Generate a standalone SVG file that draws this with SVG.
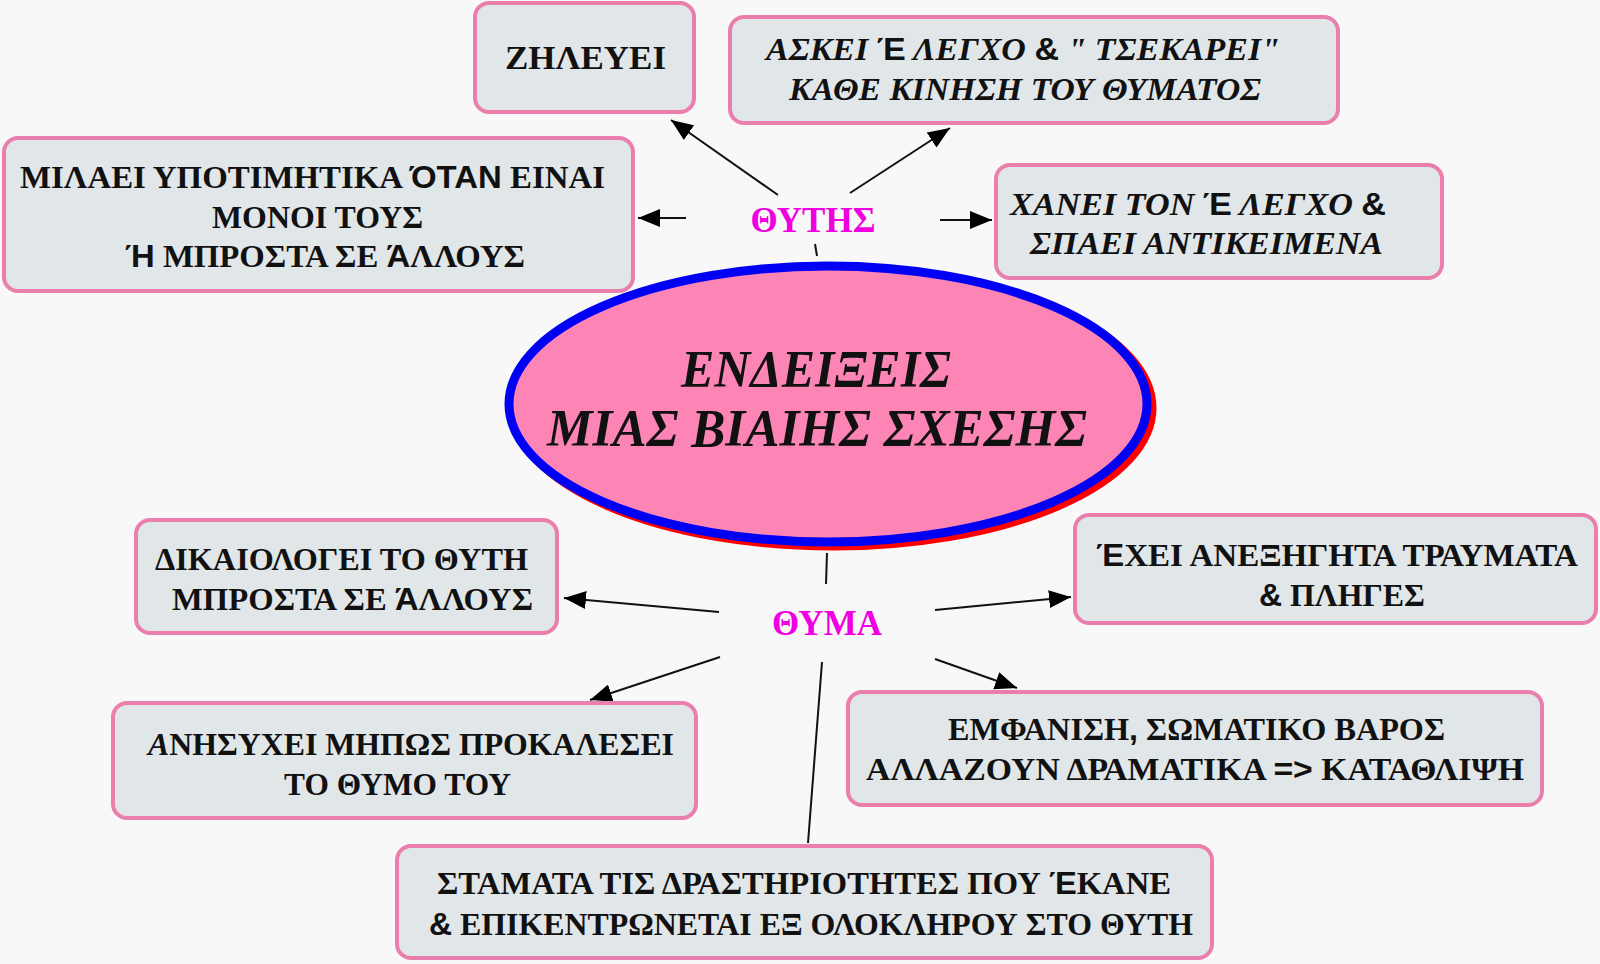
<svg xmlns="http://www.w3.org/2000/svg" width="1600" height="964" viewBox="0 0 1600 964">
<defs>
<style>
.box{fill:#E1E6E9;stroke:#EA7FAE;stroke-width:4}
.t{font-family:"Liberation Serif","Times New Roman",serif;font-weight:bold;font-size:31px;fill:#111}
.big{font-size:52px}
.z{font-size:34px}
.it{font-style:italic}
.s{font-family:"Liberation Sans",Arial,sans-serif;font-weight:bold;font-style:normal}
.lbl{font-family:"Liberation Serif","Times New Roman",serif;font-weight:bold;font-size:35px;fill:#F000E0}
.c{stroke:#111;stroke-width:2;fill:none}
</style>
<marker id="ah" markerUnits="userSpaceOnUse" markerWidth="24" markerHeight="18" refX="22" refY="9" orient="auto">
<path d="M0,0 L22,9 L0,18 Z" fill="#000"/>
</marker>
</defs>
<rect width="1600" height="964" fill="#F8F8F8"/>

<g id="connectors">
<line class="c" x1="778" y1="195" x2="671" y2="120" marker-end="url(#ah)"/>
<line class="c" x1="850" y1="193" x2="950" y2="128" marker-end="url(#ah)"/>
<line class="c" x1="686" y1="218" x2="638" y2="218" marker-end="url(#ah)"/>
<line class="c" x1="940" y1="220" x2="992" y2="220" marker-end="url(#ah)"/>
<line class="c" x1="815" y1="244" x2="817" y2="256"/>
<line class="c" x1="827" y1="553" x2="826" y2="584"/>
<line class="c" x1="719" y1="612" x2="564" y2="598" marker-end="url(#ah)"/>
<line class="c" x1="935" y1="610" x2="1071" y2="597" marker-end="url(#ah)"/>
<line class="c" x1="720" y1="657" x2="590" y2="700" marker-end="url(#ah)"/>
<line class="c" x1="935" y1="659" x2="1017" y2="688" marker-end="url(#ah)"/>
<line class="c" x1="822" y1="662" x2="808" y2="843"/>
</g>

<g id="center">
<ellipse cx="833" cy="408" rx="319" ry="138" fill="#F00" stroke="#F00" stroke-width="9"/>
<ellipse cx="828" cy="404" rx="319" ry="138" fill="#FC85B6" stroke="#0000F5" stroke-width="9"/>
<text class="t it big" x="681" y="387" textLength="270" lengthAdjust="spacingAndGlyphs">ΕΝΔΕΙΞΕΙΣ</text>
<text class="t it big" x="547" y="446" textLength="540" lengthAdjust="spacingAndGlyphs">ΜΙΑΣ ΒΙΑΙΗΣ ΣΧΕΣΗΣ</text>
</g>

<g id="label-thytis"><text class="lbl" x="813" y="232" text-anchor="middle">ΘΥΤΗΣ</text></g>
<g id="label-thyma"><text class="lbl" x="827" y="635" text-anchor="middle">ΘΥΜΑ</text></g>

<g id="n-zileyei">
<rect class="box" x="475" y="3" width="219" height="109" rx="14"/>
<text class="t z" x="505" y="69" textLength="161" lengthAdjust="spacingAndGlyphs">ΖΗΛΕΥΕΙ</text>
</g>

<g id="n-askei">
<rect class="box" x="730" y="17" width="608" height="106" rx="14"/>
<text class="t it" x="766" y="60" textLength="514" lengthAdjust="spacingAndGlyphs">ΑΣΚΕΙ <tspan class="s">Έ</tspan> ΛΕΓΧΟ <tspan class="s">&amp;</tspan> " ΤΣΕΚΑΡΕΙ"</text>
<text class="t it" x="789" y="100" textLength="472" lengthAdjust="spacingAndGlyphs">ΚΑΘΕ ΚΙΝΗΣΗ ΤΟΥ ΘΥΜΑΤΟΣ</text>
</g>

<g id="n-milaei">
<rect class="box" x="4" y="138" width="629" height="153" rx="14"/>
<text class="t" x="20" y="188" textLength="585" lengthAdjust="spacingAndGlyphs">ΜΙΛΑΕΙ ΥΠΟΤΙΜΗΤΙΚΑ <tspan class="s">ΌΤΑΝ</tspan> ΕΙΝΑΙ</text>
<text class="t" x="212" y="228" textLength="211" lengthAdjust="spacingAndGlyphs">ΜΟΝΟΙ ΤΟΥΣ</text>
<text class="t" x="125" y="267" textLength="400" lengthAdjust="spacingAndGlyphs"><tspan class="s">Ή</tspan> ΜΠΡΟΣΤΑ ΣΕ <tspan class="s">Ά</tspan>ΛΛΟΥΣ</text>
</g>

<g id="n-xanei">
<rect class="box" x="996" y="165" width="446" height="113" rx="14"/>
<text class="t it" x="1010" y="215" textLength="376" lengthAdjust="spacingAndGlyphs">ΧΑΝΕΙ ΤΟΝ <tspan class="s">Έ</tspan> ΛΕΓΧΟ <tspan class="s">&amp;</tspan></text>
<text class="t it" x="1030" y="254" textLength="353" lengthAdjust="spacingAndGlyphs">ΣΠΑΕΙ ΑΝΤΙΚΕΙΜΕΝΑ</text>
</g>

<g id="n-dikaiologei">
<rect class="box" x="136" y="520" width="421" height="113" rx="14"/>
<text class="t" x="155" y="570" textLength="373" lengthAdjust="spacingAndGlyphs">ΔΙΚΑΙΟΛΟΓΕΙ ΤΟ ΘΥΤΗ</text>
<text class="t" x="172" y="610" textLength="361" lengthAdjust="spacingAndGlyphs">ΜΠΡΟΣΤΑ ΣΕ <tspan class="s">Ά</tspan>ΛΛΟΥΣ</text>
</g>

<g id="n-exei">
<rect class="box" x="1075" y="515" width="521" height="108" rx="14"/>
<text class="t" x="1096" y="566" textLength="482" lengthAdjust="spacingAndGlyphs"><tspan class="s">Έ</tspan>ΧΕΙ ΑΝΕΞΗΓΗΤΑ ΤΡΑΥΜΑΤΑ</text>
<text class="t" x="1259" y="606" textLength="166" lengthAdjust="spacingAndGlyphs"><tspan class="s">&amp;</tspan> ΠΛΗΓΕΣ</text>
</g>

<g id="n-anisyxei">
<rect class="box" x="113" y="703" width="583" height="115" rx="14"/>
<text class="t" x="148" y="755" textLength="526" lengthAdjust="spacingAndGlyphs"><tspan class="it">Α</tspan>ΝΗΣΥΧΕΙ ΜΗΠΩΣ ΠΡΟΚΑΛΕΣΕΙ</text>
<text class="t" x="284" y="795" textLength="227" lengthAdjust="spacingAndGlyphs">ΤΟ ΘΥΜΟ ΤΟΥ</text>
</g>

<g id="n-emfanisi">
<rect class="box" x="848" y="692" width="694" height="113" rx="14"/>
<text class="t" x="948" y="740" textLength="497" lengthAdjust="spacingAndGlyphs">ΕΜΦΑΝΙΣΗ<tspan class="s">,</tspan> ΣΩΜΑΤΙΚΟ ΒΑΡΟΣ</text>
<text class="t" x="866" y="780" textLength="658" lengthAdjust="spacingAndGlyphs">ΑΛΛΑΖΟΥΝ ΔΡΑΜΑΤΙΚΑ <tspan class="s">=&gt;</tspan> ΚΑΤΑΘΛΙΨΗ</text>
</g>

<g id="n-stamata">
<rect class="box" x="397" y="846" width="815" height="112" rx="14"/>
<text class="t" x="437" y="894" textLength="734" lengthAdjust="spacingAndGlyphs">ΣΤΑΜΑΤΑ ΤΙΣ ΔΡΑΣΤΗΡΙΟΤΗΤΕΣ ΠΟΥ <tspan class="s">Έ</tspan>ΚΑΝΕ</text>
<text class="t" x="429" y="935" textLength="764" lengthAdjust="spacingAndGlyphs"><tspan class="s">&amp;</tspan> ΕΠΙΚΕΝΤΡΩΝΕΤΑΙ ΕΞ ΟΛΟΚΛΗΡΟΥ ΣΤΟ ΘΥΤΗ</text>
</g>
</svg>
